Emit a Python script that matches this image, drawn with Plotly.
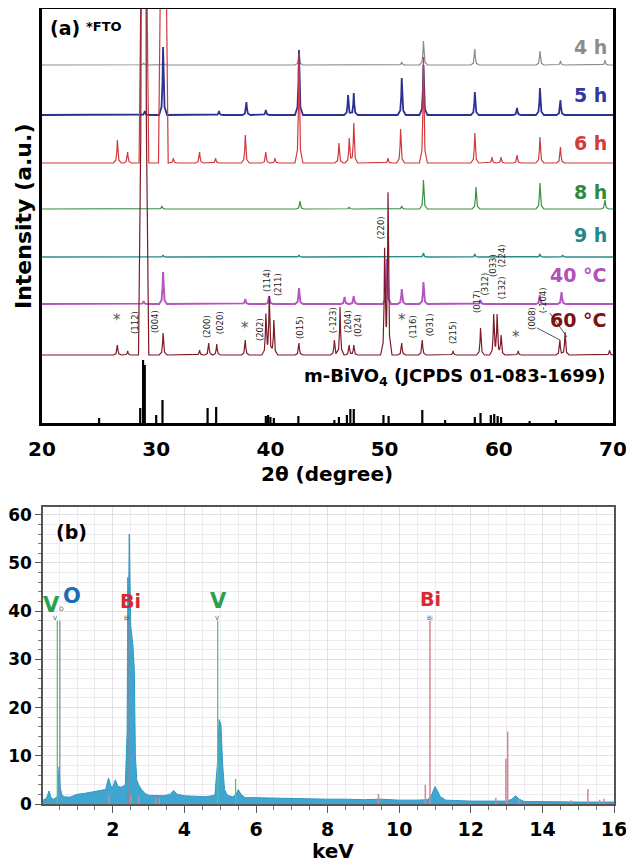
import numpy as np
import plotly.graph_objects as go

# the page body has an 8 px margin; the figure is sized so that it fills the window
PAGE_W, PAGE_H, BODY = 634, 867, 8
W, H = PAGE_W - BODY, PAGE_H - BODY
FONT = "DejaVu Sans"

# ---------------- (a) XRD data (intensities in arbitrary units) ----------------
series_names = ["4 h", "5 h", "6 h", "8 h", "9 h", "40 °C", "60 °C"]
series_offsets = [358, 308, 260, 214, 166, 119, 68]
series_colors = ["#8a8a8a", "#2e3192", "#d2393c", "#3b8f47", "#2b8c8c", "#b455c0", "#7c1a26"]
series_widths = [1.2, 1.8, 1.2, 1.2, 1.5, 1.9, 1.2]
label_colors = ["#8c8c8c", "#2e3aa0", "#d43a3a", "#2f8a3f", "#23878a", "#b050b8", "#7a1212"]

pk_4h_pos = [28.9, 30.6, 42.5, 51.5, 53.4, 57.9, 63.6, 65.4, 69.3]
pk_4h_ht = [2, 3, 13, 3, 24, 16, 14, 4, 5]

pk_5h_pos = [29.0, 30.6, 35.5, 37.9, 39.6, 42.5, 46.8, 47.3, 51.5, 53.4, 57.9, 61.6, 63.6, 65.4]
pk_5h_ht = [4, 68, 4, 13, 5, 65, 20, 22, 37, 50, 23, 7, 27, 15]

pk_6h_pos = [26.6, 27.5, 28.85, 29.0, 30.55, 30.7, 31.5, 33.8, 35.2, 37.8, 39.6, 40.4, 42.5,
             46.0, 46.9, 47.3, 50.3, 51.4, 53.4, 57.9, 59.4, 60.2, 61.6, 63.6, 65.4]
pk_6h_ht = [23, 11, 2000, 2000, 2000, 2000, 5, 11, 5, 28, 11, 5, 110,
            20, 25, 40, 5, 34, 106, 30, 6, 6, 8, 26, 16]

pk_8h_pos = [30.5, 42.6, 46.9, 51.5, 53.4, 58.0, 63.6, 69.3]
pk_8h_ht = [3, 8, 2, 3, 29, 22, 26, 9]

pk_9h_pos = [30.6, 42.5, 53.4, 57.9, 63.6, 65.6]
pk_9h_ht = [2, 2, 4, 3, 3, 2]

pk_40C_pos = [28.9, 30.6, 37.8, 39.9, 42.5, 46.5, 47.3, 50.2, 51.5, 53.4, 58.4, 63.6, 65.5]
pk_40C_ht = [3, 32, 5, 8, 16, 7, 8, 45, 15, 22, 4, 9, 12]

pk_60C_pos = [26.6, 27.5, 28.8, 29.0, 30.6, 33.8, 34.6, 35.3, 37.8, 39.6, 39.9, 40.3, 42.5,
              45.6, 46.1, 46.9, 47.3, 50.0, 50.3, 51.5, 53.3, 56.0, 58.4, 59.55, 59.85,
              60.2, 61.7, 65.35, 65.8, 69.7]
pk_60C_ht = [10, 4, 2000, 2000, 22, 5, 12, 11, 15, 40, 58, 35, 12,
             15, 48, 10, 10, 103, 160, 12, 15, 4, 27, 40, 40,
             20, 4, 15, 23, 5]

series_peaks = [(pk_4h_pos, pk_4h_ht), (pk_5h_pos, pk_5h_ht), (pk_6h_pos, pk_6h_ht),
                (pk_8h_pos, pk_8h_ht), (pk_9h_pos, pk_9h_ht), (pk_40C_pos, pk_40C_ht),
                (pk_60C_pos, pk_60C_ht)]

# JCPDS 01-083-1699 reference sticks
ref_pos = [25.0, 28.6, 28.85, 29.0, 30.0, 30.55, 34.5, 35.25, 39.6, 39.8, 40.0, 40.3, 42.45,
           45.6, 46.0, 46.7, 47.0, 47.3, 49.9, 50.35, 53.3, 55.3, 57.9, 58.4, 59.3, 59.6,
           59.9, 60.2, 62.7, 65.0]
ref_ht = [5, 15, 63, 58, 8, 23, 15, 16, 7, 8, 6, 5, 7,
          3, 6, 8, 14, 14, 8, 7, 13, 3, 6, 10, 8, 9,
          7, 6, 2, 3]

# Miller index labels: text, 2theta, height
hkl_text = ["(112)", "(004)", "(200)", "(020)", "(202)", "(114)", "(211)", "(015)", "(-123)",
            "(204)", "(024)", "(220)", "(116)", "(031)", "(215)", "(017)", "(312)", "(033)",
            "(224)", "(132)", "(008)", "(-104)"]
hkl_x = [28.14, 29.9, 34.45, 35.6, 39.1, 39.7, 40.67, 42.6, 45.5,
         46.8, 47.67, 49.7, 52.5, 54.0, 56.0, 58.1, 58.75, 59.5,
         60.3, 60.3, 62.9, 63.9]
hkl_y = [101, 101, 96, 100, 93, 143, 138, 95, 103,
         101, 98, 195, 96, 98, 90, 121, 139, 157,
         167, 135, 105, 123]
star_x = [26.57, 37.8, 51.5, 61.5]
star_y = [103, 95, 103, 86]

# ---------------- (b) EDS data ----------------
eds_kev = [0.05, 0.15, 0.22, 0.28, 0.35, 0.45, 0.5, 0.53, 0.58, 0.65, 0.8, 1.0, 1.2, 1.4, 1.6,
           1.8, 1.88, 1.95, 2.0, 2.07, 2.15, 2.25, 2.35, 2.4, 2.42, 2.44, 2.46, 2.48, 2.5,
           2.53, 2.56, 2.6, 2.63, 2.67, 2.72, 2.8, 2.9, 3.0, 3.2, 3.4, 3.6, 3.7, 3.8, 4.0,
           4.3, 4.6, 4.85, 4.92, 4.97, 5.02, 5.07, 5.12, 5.2, 5.35, 5.45, 5.5, 5.58, 5.7,
           6.0, 6.5, 7.0, 7.5, 8.0, 8.5, 9.0, 9.5, 10.0, 10.5, 10.8, 10.9, 11.0, 11.05,
           11.15, 11.3, 11.6, 12.0, 12.5, 13.0, 13.15, 13.25, 13.35, 13.5, 14.0, 14.5,
           15.0, 15.5, 16.0]
eds_counts = [0.8, 1.2, 2.7, 1.2, 1.0, 1.5, 7.7, 3.5, 1.8, 1.5, 1.4, 2.0, 2.2, 2.5, 2.7,
              3.0, 5.4, 3.6, 3.5, 5.0, 3.6, 3.5, 4.0, 15, 47, 40, 56, 38, 37,
              35, 33, 28, 10, 5, 4.0, 3.0, 2.2, 1.8, 1.8, 1.7, 2.0, 2.8, 2.0, 1.7,
              1.6, 1.5, 1.8, 8, 17.5, 16.5, 8, 3.0, 1.8, 1.5, 2.0, 3.0, 2.0, 1.3,
              1.3, 1.2, 1.2, 1.1, 1.0, 1.0, 0.9, 1.0, 0.8, 0.8, 0.9, 1.8, 3.6, 3.0,
              1.5, 0.8, 0.7, 0.6, 0.6, 0.6, 1.0, 1.7, 1.0, 0.5, 0.5, 0.4,
              0.4, 0.4, 0.4]

v_line_kev = [0.45, 4.93, 5.43]
v_line_ht = [38, 38, 5.2]
o_line_kev = [0.52]
o_line_ht = [38]
bim_line_kev = [2.42]
bim_line_ht = [38]
bi_line_kev = [1.9, 2.5, 2.73, 3.2, 3.3, 9.42, 10.73, 10.86, 12.7, 12.98, 13.03, 13.35,
               14.8, 15.27, 15.6, 15.72]
bi_line_ht = [2.0, 2.0, 1.5, 1.3, 1.3, 2.1, 4.0, 38, 1.3, 9.4, 15, 1.0,
              0.8, 3.1, 0.9, 1.1]

# ---------------- helpers ----------------
shape_dx = np.array([-0.35, -0.13, -0.045, 0.0, 0.045, 0.13, 0.35])
shape_fr = np.array([0.0, 0.12, 0.5, 1.0, 0.5, 0.12, 0.0])


def pattern(pos, ht, offset):
    xs = [20.0, 70.0]
    for p in pos:
        xs.extend(p + shape_dx)
    xs = np.unique(np.clip(np.array(xs), 20, 70))
    ys = np.full(xs.shape, float(offset))
    for p, h in zip(pos, ht):
        ys += np.interp(xs, p + shape_dx, h * shape_fr, left=0, right=0)
    return xs, ys


def sticks(pos, ht):
    xs, ys = [], []
    for p, h in zip(pos, ht):
        xs += [p, p, None]
        ys += [0, h, None]
    return xs, ys


def px(x):
    return min(max((x - BODY) / W, 0.0), 1.0)


def py(y):
    return min(max(1 - (y - BODY) / H, 0.0), 1.0)


def paper_text(x, y, text, size, color="black", xanchor="center", angle=0):
    return dict(x=px(x), y=py(y), xref="paper", yref="paper", xanchor=xanchor,
                yanchor="middle", text=text, showarrow=False, textangle=angle,
                font=dict(family=FONT, size=size, color=color))


fig = go.Figure()

# XRD traces
for name, off, col, wd, (pos, ht) in zip(series_names, series_offsets, series_colors,
                                          series_widths, series_peaks):
    xs, ys = pattern(pos, ht, off)
    fig.add_trace(go.Scatter(x=xs, y=ys, mode="lines", line=dict(color=col, width=wd),
                             name=name, xaxis="x", yaxis="y", showlegend=False))

rx, ry = sticks(ref_pos, ref_ht)
fig.add_trace(go.Scatter(x=rx, y=ry, mode="lines", line=dict(color="black", width=2.2),
                         xaxis="x", yaxis="y", showlegend=False))

# EDS spectrum
fig.add_trace(go.Scatter(x=eds_kev, y=eds_counts, mode="lines", fill="tozeroy",
                         fillcolor="#3ea6d0", line=dict(color="#2f98c4", width=1),
                         xaxis="x2", yaxis="y2", showlegend=False))
for kev, ht, col, wd in [(v_line_kev, v_line_ht, "#5cc070", 1.3),
                         (o_line_kev, o_line_ht, "#7f8ea6", 1.3),
                         (bim_line_kev, bim_line_ht, "#9a7f88", 1.3),
                         (bi_line_kev, bi_line_ht, "#d08890", 1.5)]:
    lx, ly = sticks(kev, ht)
    fig.add_trace(go.Scatter(x=lx, y=ly, mode="lines", line=dict(color=col, width=wd),
                             xaxis="x2", yaxis="y2", showlegend=False))

ann = []
# Miller labels
for t, x, y in zip(hkl_text, hkl_x, hkl_y):
    ann.append(dict(x=x, y=y, xref="x", yref="y", text=t, textangle=-90, showarrow=False,
                    xanchor="center", yanchor="middle",
                    font=dict(family=FONT, size=8.5, color="#222")))
for x, y in zip(star_x, star_y):
    ann.append(dict(x=x, y=y, xref="x", yref="y", text="*", showarrow=False,
                    xanchor="center", yanchor="middle",
                    font=dict(family=FONT, size=15, color="#555")))

# series labels
label_py = [47, 95, 143, 192, 235, 275, 320]
for name, col, yy in zip(series_names, label_colors, label_py):
    ann.append(paper_text(609, yy, "<b>%s</b>" % name, 19, col, xanchor="right"))

ann += [
    paper_text(607, 377, "<b>m-BiVO<sub>4</sub> (JCPDS 01-083-1699)</b>", 18, xanchor="right"),
    paper_text(48, 28, "<b>(a)</b>", 19, xanchor="left"),
    paper_text(84, 27, "<b>*FTO</b>", 13, xanchor="left"),
    paper_text(23, 217, "<b>Intensity (a.u.)</b>", 22, angle=-90),
    paper_text(327, 474, "<b>2θ (degree)</b>", 20),
    paper_text(333, 851, "<b>keV</b>", 20),
    paper_text(54, 532, "<b>(b)</b>", 19, xanchor="left"),
]

# element labels in EDS
elem = [("V", 0.3, 41.3, "#2aa050", 21), ("O", 0.85, 43.2, "#1d6db5", 21),
        ("Bi", 2.5, 42.2, "#d9282f", 19), ("V", 4.95, 42.2, "#2aa050", 21),
        ("Bi", 10.88, 42.5, "#d9282f", 19)]
for t, x, y, c, s in elem:
    ann.append(dict(x=x, y=y, xref="x2", yref="y2", text="<b>%s</b>" % t, showarrow=False,
                    xanchor="center", yanchor="middle",
                    font=dict(family=FONT, size=s, color=c)))
small = [("V", 0.4, 38.6), ("O", 0.56, 40.6), ("Bi", 2.4, 38.6), ("V", 4.93, 38.6), ("Bi", 10.86, 38.6)]
for t, x, y in small:
    ann.append(dict(x=x, y=y, xref="x2", yref="y2", text=t, showarrow=False,
                    xanchor="center", yanchor="middle",
                    font=dict(family=FONT, size=6, color="#555")))

shapes = [
    dict(type="line", xref="x", yref="y", x0=63.35, y0=95, x1=65.36, y1=83,
         line=dict(color="#555", width=1)),
    dict(type="line", xref="x", yref="y", x0=64.48, y0=110, x1=65.97, y1=86,
         line=dict(color="#555", width=1)),
]

# top panel: plot area from window pixel 9 (top) to 423 (x axis); 1 unit = 1 px
TOP_PX, AX_PX = 9, 423

fig.update_layout(
    width=W, height=H, margin=dict(l=0, r=0, t=0, b=0, autoexpand=False),
    paper_bgcolor="white", plot_bgcolor="white",
    annotations=ann, shapes=shapes,
    xaxis=dict(domain=[px(42), px(613)], range=[20, 70], dtick=10, tick0=20,
               showline=True, mirror=True, linecolor="black", linewidth=2.5,
               showgrid=False, zeroline=False, ticks="", ticklabelstandoff=6, automargin=False,
               tickfont=dict(family=FONT, size=20, color="black", weight="bold"), anchor="y"),
    yaxis=dict(domain=[py(AX_PX), py(TOP_PX)], range=[0, AX_PX - TOP_PX], showticklabels=False,
               showline=True, mirror=True, linecolor="black", linewidth=2.5, automargin=False,
               showgrid=False, zeroline=False, ticks="", anchor="x"),
    xaxis2=dict(domain=[px(43), px(614)], range=[0.05, 16], dtick=2, tick0=0,
                showline=True, mirror=True, linecolor="#555", linewidth=1.5,
                showgrid=True, gridcolor="#e4dfe4", gridwidth=1, zeroline=False,
                ticks="outside", ticklen=7, tickcolor="#555", automargin=False,
                minor=dict(dtick=0.5, ticks="outside", ticklen=4, tickcolor="#777",
                           showgrid=True, gridcolor="#eeeaee"),
                tickfont=dict(family=FONT, size=19, color="black", weight="bold"), anchor="y2"),
    yaxis2=dict(domain=[py(804), py(507)], range=[0, 61.6], dtick=10, tick0=0,
                showline=True, mirror=True, linecolor="#555", linewidth=1.5,
                showgrid=True, gridcolor="#e4dfe4", gridwidth=1, zeroline=False,
                ticks="outside", ticklen=6, tickcolor="#555", automargin=False,
                minor=dict(dtick=2, ticks="outside", ticklen=3, tickcolor="#777",
                           showgrid=True, gridcolor="#eeeaee"),
                tickfont=dict(family=FONT, size=17, color="black", weight="bold"), anchor="x2"),
)

fig.write_html("out.html")
